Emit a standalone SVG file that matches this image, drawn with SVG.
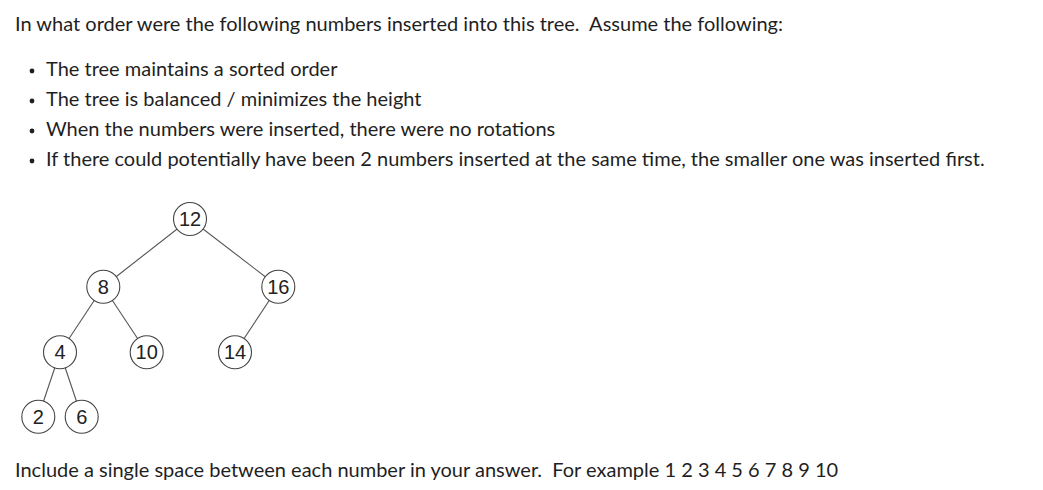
<svg xmlns="http://www.w3.org/2000/svg" width="1043" height="490" viewBox="0 0 1043 490">
<style>
.t{font-family:Lato,"Liberation Sans",sans-serif;font-size:20px;fill:#1f1f1f;white-space:pre}
.n circle{fill:#fff;stroke:#444;stroke-width:1.1}
.n text{font-family:"Liberation Sans",Arial,sans-serif;font-size:20px;fill:#222;text-anchor:middle}
#edges line{stroke:#555;stroke-width:1.1}
</style>
<rect width="1043" height="490" fill="#fff"/>
<text class="t" x="15" y="31">In what order were the following numbers inserted into this tree.  Assume the following:</text>
<g class="t">
<circle cx="32" cy="71" r="2.4" fill="#1f1f1f"/>
<circle cx="32" cy="101" r="2.4" fill="#1f1f1f"/>
<circle cx="32" cy="131" r="2.4" fill="#1f1f1f"/>
<circle cx="32" cy="161" r="2.4" fill="#1f1f1f"/>
</g>
<text class="t" x="46" y="76">The tree maintains a sorted order</text>
<text class="t" x="46" y="106">The tree is balanced / minimizes the height</text>
<text class="t" x="46" y="136">When the numbers were inserted, there were no rotations</text>
<text class="t" x="46" y="166">If there could potentially have been 2 numbers inserted at the same time, the smaller one was inserted first.</text>
<g id="edges">
<line x1="190" y1="219" x2="103.3" y2="286.7"/>
<line x1="190" y1="219" x2="278.3" y2="286.7"/>
<line x1="103.3" y1="286.7" x2="60" y2="352.3"/>
<line x1="103.3" y1="286.7" x2="146.7" y2="352.3"/>
<line x1="278.3" y1="286.7" x2="235" y2="352.3"/>
<line x1="60" y1="352.3" x2="38.3" y2="416.7"/>
<line x1="60" y1="352.3" x2="81.7" y2="416.7"/>
</g>
<g id="n12" class="n"><circle cx="190" cy="219" r="16.5"/><text x="190" y="226">12</text></g>
<g id="n8" class="n"><circle cx="103.3" cy="286.7" r="16.5"/><text x="103.3" y="293.7">8</text></g>
<g id="n16" class="n"><circle cx="278.3" cy="286.7" r="16.5"/><text x="278.3" y="293.7">16</text></g>
<g id="n4" class="n"><circle cx="60" cy="352.3" r="16.5"/><text x="60" y="359.3">4</text></g>
<g id="n10" class="n"><circle cx="146.7" cy="352.3" r="16.5"/><text x="146.7" y="359.3">10</text></g>
<g id="n14" class="n"><circle cx="235" cy="352.3" r="16.5"/><text x="235" y="359.3">14</text></g>
<g id="n2" class="n"><circle cx="38.3" cy="416.7" r="16.5"/><text x="38.3" y="423.7">2</text></g>
<g id="n6" class="n"><circle cx="81.7" cy="416.7" r="16.5"/><text x="81.7" y="423.7">6</text></g>
<text class="t" x="15" y="477">Include a single space between each number in your answer.  For example 1 2 3 4 5 6 7 8 9 10</text>
</svg>
